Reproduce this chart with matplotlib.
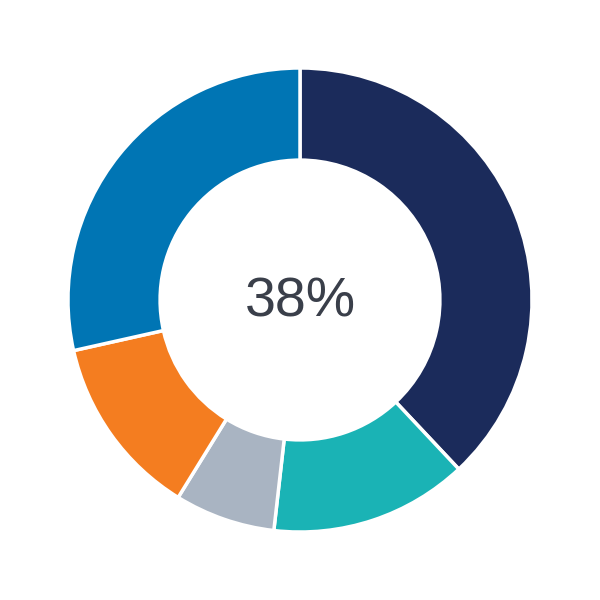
import matplotlib
matplotlib.use('Agg')
import matplotlib.pyplot as plt

labels = ['Navy', 'Teal', 'Gray', 'Orange', 'Blue']
values = [38, 13.8, 7, 12.7, 28.5]
colors = ['#1b2b5b', '#1ab3b5', '#a9b4c2', '#f47d20', '#0075b4']
center_text = '38%'

fig = plt.figure(figsize=(6, 6), dpi=100)
ax = fig.add_axes([0, 0, 1, 1])
ax.pie(values, colors=colors, startangle=90, counterclock=False,
       radius=1.0, wedgeprops=dict(width=0.397, edgecolor='white', linewidth=2.5))
ax.text(0, -0.01, center_text, ha='center', va='center', fontsize=40,
        color='#3a3f4a', family='Liberation Sans')
ax.set_xlim(-1.293, 1.293)
ax.set_ylim(-1.293, 1.293)
ax.set_aspect('equal')
ax.axis('off')
fig.savefig('out.png', dpi=100)
